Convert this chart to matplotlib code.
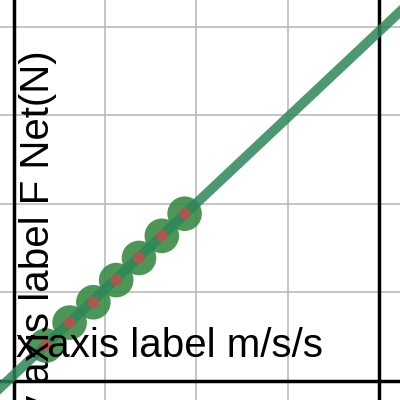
import matplotlib.pyplot as plt
import numpy as np

plt.rcParams['font.family'] = ['Liberation Sans', 'DejaVu Sans']

# measured points (acceleration, net force)
accel = [0.35, 0.61, 0.87, 1.12, 1.37, 1.62, 1.87]
force = [0.40, 0.66, 0.89, 1.14, 1.39, 1.64, 1.89]
fit_slope = 0.97
fit_intercept = 0.07

xmin, xmax = -0.153, 4.23
ymin, ymax = -0.215, 4.305

fig = plt.figure(figsize=(4, 4), dpi=100)
ax = fig.add_axes([0, 0, 1, 1])
ax.set_xlim(xmin, xmax)
ax.set_ylim(ymin, ymax)

for v in range(0, 5):
    ax.axvline(v, color='#bbbbbb', lw=1.2, zorder=0)
    ax.axhline(v, color='#bbbbbb', lw=1.2, zorder=0)
ax.axvline(0, color='black', lw=2.5, zorder=1)
ax.axvline(4, color='black', lw=2.5, zorder=1)
ax.axhline(0, color='black', lw=2.5, zorder=1)

xs = np.array([xmin, xmax])
ax.plot(xs, fit_slope * xs + fit_intercept, color='#2d8659', lw=7, alpha=0.85, zorder=3)
ax.scatter(accel, force, s=620, color='#388c46', alpha=0.9, zorder=2, edgecolors='none')
ax.scatter(accel, force, s=70, color='#c0504d', alpha=0.85, zorder=4, edgecolors='none')

ax.text(0.02, 0.4, 'x axis label m/s/s', fontsize=29, va='center', ha='left', zorder=5)
ax.text(0.26, -0.38, 'y axis label F Net(N)', fontsize=29, rotation=90,
        va='bottom', ha='center', zorder=5)

ax.set_xticks([])
ax.set_yticks([])
for s in ax.spines.values():
    s.set_visible(False)

fig.savefig('out.png', dpi=100)
